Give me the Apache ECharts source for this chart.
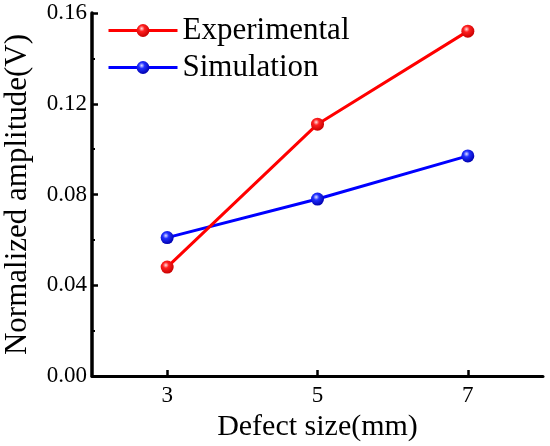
<!DOCTYPE html>
<html>
<head>
<meta charset="utf-8">
<script src="https://cdn.jsdelivr.net/npm/echarts@6/dist/echarts.min.js"></script>
<style>
html,body{margin:0;padding:0;background:#fff;}
#chart{width:550px;height:446px;}
</style>
</head>
<body>
<div id="chart"></div>
<script>
const defectSizes = [3, 5, 7];
const experimental = [0.048, 0.111, 0.152];
const simulation = [0.061, 0.078, 0.097];
const xTickValues = [3, 5, 7];

const FONT = "'Liberation Serif', 'Times New Roman', serif";

function sphere(light, mid, dark) {
  return {
    type: 'radial', x: 0.4, y: 0.35, r: 0.65,
    colorStops: [
      {offset: 0, color: light},
      {offset: 0.35, color: mid},
      {offset: 1, color: dark}
    ]
  };
}

const chart = echarts.init(document.getElementById('chart'), null, {renderer: 'canvas'});
chart.setOption({
  animation: false,
  backgroundColor: '#fff',
  grid: {left: 92, right: 7, top: 13, bottom: 70, containLabel: false, outerBoundsMode: 'none'},
  legend: {
    orient: 'vertical',
    left: 102,
    top: 10,
    itemWidth: 69,
    itemHeight: 16,
    itemGap: 6,
    lineStyle: {width: 3},
    textStyle: {fontFamily: FONT, fontSize: 31, color: '#000'},
    data: ['Experimental', 'Simulation']
  },
  xAxis: {
    type: 'value',
    min: 2, max: 8, interval: 1,
    name: 'Defect size(mm)',
    nameLocation: 'middle',
    nameGap: 32,
    nameTextStyle: {fontFamily: FONT, fontSize: 30, color: '#000'},
    axisLine: {show: true, onZero: false, lineStyle: {color: '#000', width: 3}},
    axisTick: {show: true, inside: true, length: 6, lineStyle: {color: '#000', width: 2.5}, customValues: xTickValues},
    axisLabel: {fontFamily: FONT, fontSize: 23, color: '#000', margin: 8, customValues: xTickValues},
    splitLine: {show: false}
  },
  yAxis: {
    type: 'value',
    min: 0, max: 0.16, interval: 0.04,
    name: 'Normalized amplitude(V)',
    nameLocation: 'middle',
    nameRotate: 90,
    nameGap: 59,
    nameTextStyle: {fontFamily: FONT, fontSize: 31, color: '#000'},
    axisLine: {show: true, onZero: false, lineStyle: {color: '#000', width: 3.5, opacity: 1}},
    axisTick: {show: true, inside: true, length: 6, lineStyle: {color: '#000', width: 2.5, opacity: 1}},
    minorTick: {show: true, splitNumber: 2, length: 3, lineStyle: {color: '#000', width: 2, opacity: 1}},
    axisLabel: {fontFamily: FONT, fontSize: 23, color: '#000', margin: 5,
      formatter: v => v.toFixed(2)},
    splitLine: {show: false}
  },
  series: [
    {
      name: 'Experimental',
      type: 'line',
      data: defectSizes.map((x, i) => [x, experimental[i]]),
      symbol: 'circle',
      symbolSize: 13,
      lineStyle: {color: '#ff0000', width: 3},
      itemStyle: {color: sphere('#ffe0e0', '#ff2020', '#c80000')},
      z: 3
    },
    {
      name: 'Simulation',
      type: 'line',
      data: defectSizes.map((x, i) => [x, simulation[i]]),
      symbol: 'circle',
      symbolSize: 13,
      lineStyle: {color: '#0000ff', width: 3},
      itemStyle: {color: sphere('#e0e0ff', '#2030ff', '#0000b0')},
      z: 2
    }
  ]
});
</script>
</body>
</html>
